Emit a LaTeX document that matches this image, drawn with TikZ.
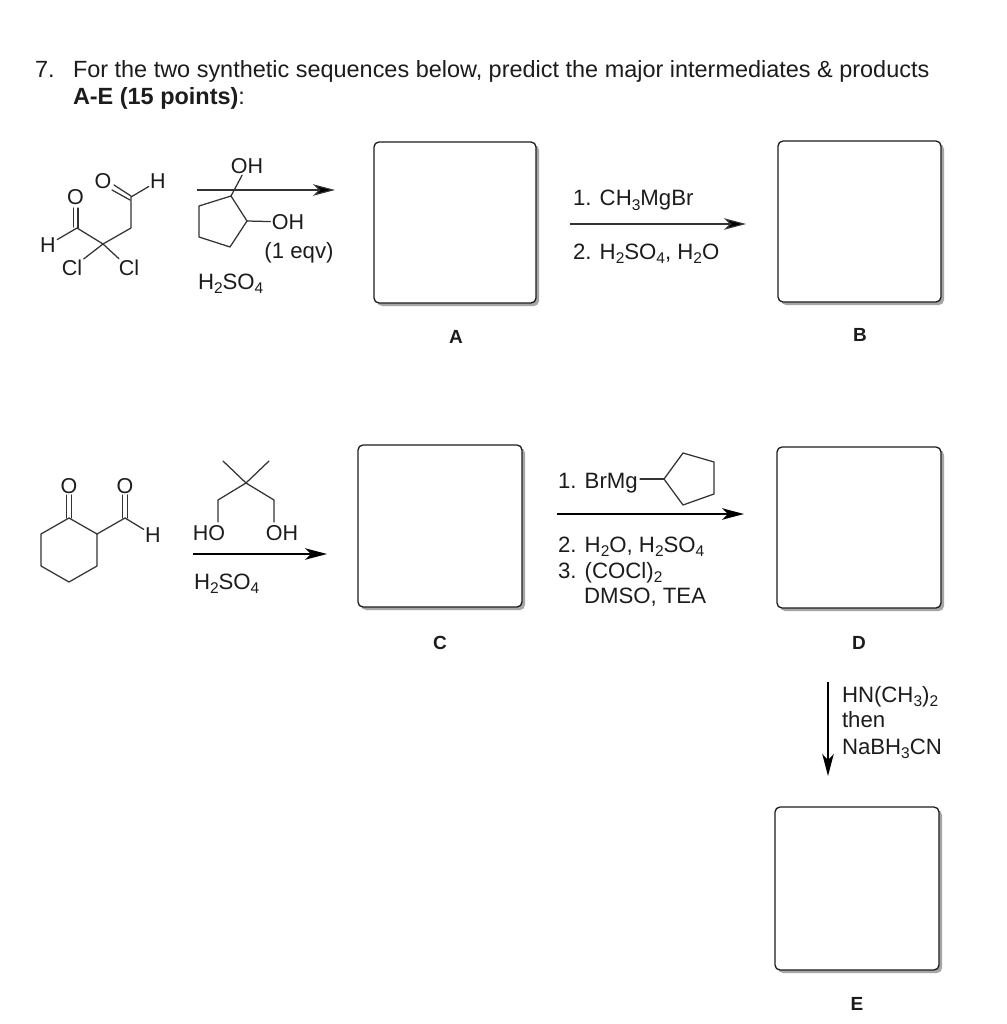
\documentclass[tikz,border=0pt]{standalone}
\usepackage{fontspec}
\setmainfont{Liberation Sans}
\usetikzlibrary{arrows.meta}
\definecolor{ink}{HTML}{1C1C1C}
\definecolor{bondc}{HTML}{333333}
\newcommand{\sbs}[1]{\raisebox{-0.22em}{\fontsize{15.5}{15.5}\selectfont #1}}
\tikzset{
  x=1pt,y=-1pt,
  txt/.style={inner sep=0pt,outer sep=0pt,text=ink,font=\fontsize{22.2}{22}\selectfont},
  title/.style={txt,anchor=base west,font=\fontsize{23.45}{24}\selectfont},
  atom/.style={txt,inner sep=1pt,outer sep=0.5pt,font=\fontsize{21.5}{22}\selectfont},
  rlab/.style={txt,anchor=base west},
  bond/.style={draw=bondc,line width=1.25pt,line cap=round,line join=round},
  rxn/.style={draw=black,line width=1.5pt,-{Stealth[length=22pt,width=11.5pt,inset=6pt,fill=black]}},
  answer/.style={draw=ink,line width=1.3pt,rounded corners=5pt,fill=white},
  shade/.style={fill=black!35,rounded corners=5pt},
  letter/.style={txt,font=\fontsize{19}{19}\selectfont\bfseries}
}
\begin{document}
\begin{tikzpicture}
\useasboundingbox (0,0) rectangle (1006,1024);
\fill[white] (0,0) rectangle (1006,1024);
% title
\node[title] (n7) at (35,78) {7.};
\node[title] (t1) at (73,78) {For the two synthetic sequences below, predict the major intermediates \& products};
\node[title] (t2) at (73,105) {\bfseries A-E (15 points)\normalfont:};
% answer boxes
\foreach \nm/\xa/\ya/\xb/\yb in {A/374/142/536/303,B/778/141/941/302,C/358/445/522/607,D/777/447/941/608,E/775/807/939/970}{
  \fill[shade] (\xa+3,\ya+3) rectangle (\xb+3,\yb+3);
  \draw[answer] (\xa,\ya) rectangle (\xb,\yb);
}
\node[letter] (la) at (456,337) {A};
\node[letter] (lb) at (860,335) {B};
\node[letter] (lc) at (440,643) {C};
\node[letter] (ld) at (859,643) {D};
\node[letter] (le) at (857,1004) {E};
% molecule 1
\node[atom] (h1) at (48,245) {H};
\coordinate (c1) at (77,228);
\node[atom] (o1) at (75.5,197) {O};
\coordinate (q) at (103,244);
\coordinate (c2) at (131,228);
\coordinate (c3) at (131,197);
\node[atom] (o2) at (103,181) {O};
\node[atom] (h2) at (158,181) {H};
\node[atom] (cl1) at (72,268) {Cl};
\node[atom] (cl2) at (129,268) {Cl};
\draw[bond] (h1) -- (c1) -- (q) -- (c2) -- (c3) -- (h2);
\draw[bond] (q) -- (cl1);
\draw[bond] (q) -- (cl2);
\coordinate (d1a) at (73.5,227);
\coordinate (d1b) at (73.5,208);
\coordinate (d1c) at (78,228);
\coordinate (d1d) at (78,208);
\draw[bond] (d1a) -- (d1b);
\draw[bond] (d1c) -- (d1d);
\coordinate (d2a) at (131,196);
\coordinate (d2b) at (114,185);
\coordinate (d2c) at (130,200);
\coordinate (d2d) at (112,190);
\draw[bond] (d2a) -- (d2b);
\draw[bond] (d2c) -- (d2d);
% diol
\coordinate (r1) at (231,196);
\coordinate (r2) at (247,221);
\coordinate (r3) at (230,247);
\coordinate (r4) at (199,237);
\coordinate (r5) at (199,206);
\node[atom] (oh1) at (247,166) {OH};
\node[atom] (oh2) at (288,222) {OH};
\draw[bond] (r1) -- (r2) -- (r3) -- (r4) -- (r5) -- cycle;
\draw[bond] (r1) -- (oh1);
\draw[bond] (r2) -- (oh2);
\node[txt] (eq) at (299,253) {(1 eqv)};
\node[rlab] (s1) at (198,289) {H\sbs{2}SO\sbs{4}};
\coordinate (a1s) at (197,190);
\coordinate (a1e) at (335,190);
\draw[rxn,line width=1.15pt,draw=bondc] (a1s) -- (a1e);
% A to B
\coordinate (a2s) at (570,224);
\coordinate (a2e) at (746,224);
\draw[rxn,line width=1.15pt,draw=bondc] (a2s) -- (a2e);
\node[rlab] (s2) at (573,206) {1. CH\sbs{3}MgBr};
\node[rlab] (s3) at (573,259) {2. H\sbs{2}SO\sbs{4}, H\sbs{2}O};
% molecule 2
\coordinate (k1) at (69,518);
\coordinate (k2) at (97,534);
\coordinate (k3) at (97,566);
\coordinate (k4) at (69,582);
\coordinate (k5) at (41,566);
\coordinate (k6) at (41,534);
\node[atom] (ko) at (69,486) {O};
\coordinate (k7) at (125,518);
\node[atom] (ko2) at (125,486) {O};
\node[atom] (kh) at (153,535) {H};
\draw[bond] (k1) -- (k2) -- (k3) -- (k4) -- (k5) -- (k6) -- cycle;
\draw[bond] (k2) -- (k7) -- (kh);
\draw[bond] ([xshift=-2.2pt]k1) -- ([xshift=-2.2pt]ko.south);
\draw[bond] ([xshift=2.2pt]k1) -- ([xshift=2.2pt]ko.south);
\draw[bond] ([xshift=-2.2pt]k7) -- ([xshift=-2.2pt]ko2.south);
\draw[bond] ([xshift=2.2pt]k7) -- ([xshift=2.2pt]ko2.south);
% neopentyl glycol
\coordinate (g0) at (246,483);
\coordinate (g1) at (223,461);
\coordinate (g2) at (269,461);
\coordinate (g3) at (218,500);
\coordinate (g4) at (274,500);
\node[atom] (ho) at (209,533) {HO};
\node[atom] (oh) at (282,533) {OH};
\coordinate (g5) at (218,522);
\coordinate (g6) at (274,522);
\draw[bond] (g1) -- (g0) -- (g2);
\draw[bond] (g5) -- (g3) -- (g0) -- (g4) -- (g6);
\coordinate (a3s) at (193,554);
\coordinate (a3e) at (327,554);
\draw[rxn] (a3s) -- (a3e);
\node[rlab] (s4) at (194,589) {H\sbs{2}SO\sbs{4}};
% C to D
\node[rlab] (s5) at (558,488) {1. BrMg};
\coordinate (m0) at (640,479);
\coordinate (m1) at (664,479);
\coordinate (m2) at (683,453);
\coordinate (m3) at (714,462);
\coordinate (m4) at (714,494);
\coordinate (m5) at (683,505);
\draw[bond] (m0) -- (m1);
\draw[bond] (m1) -- (m2) -- (m3) -- (m4) -- (m5) -- cycle;
\coordinate (a4s) at (557,514);
\coordinate (a4e) at (744,514);
\draw[rxn] (a4s) -- (a4e);
\node[rlab] (s6) at (558,552) {2. H\sbs{2}O, H\sbs{2}SO\sbs{4}};
\node[rlab] (s7) at (558,578) {3. (COCl)\sbs{2}};
\node[rlab] (s8) at (584,603) {DMSO, TEA};
% D to E
\coordinate (a5s) at (828,682);
\coordinate (a5e) at (828,776);
\draw[rxn] (a5s) -- (a5e);
\node[rlab] (s9) at (842,702) {HN(CH\sbs{3})\sbs{2}};
\node[rlab] (s10) at (842,727) {then};
\node[rlab] (s11) at (842,754) {NaBH\sbs{3}CN};
\end{tikzpicture}
\end{document}
